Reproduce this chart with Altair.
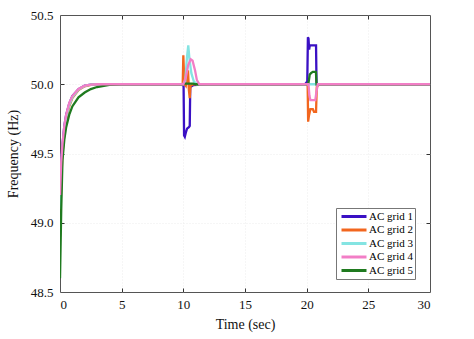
import altair as alt
import pandas as pd

series_names = ["AC grid 1", "AC grid 2", "AC grid 3", "AC grid 4", "AC grid 5"]
series_colors = ["#3a10c4", "#f2661e", "#84e4e2", "#f27ec6", "#1f7a1f"]
x_ticks = [0, 5, 10, 15, 20, 25, 30]
y_ticks = [48.5, 49.0, 49.5, 50.0, 50.5]
x_inner = [5, 10, 15, 20, 25]
y_inner = [49.0, 49.5, 50.0]

# start-up phase (shared time base)
t_start = [0, 0.1, 0.2, 0.35, 0.5, 0.75, 1.0, 1.5, 2.0, 2.5, 3.0, 4.0, 5.0]
f1_start = [49.30, 49.45, 49.56, 49.70, 49.78, 49.86, 49.915, 49.965, 49.99, 49.998, 50.0, 50.0, 50.0]
f2_start = [48.90, 49.30, 49.50, 49.64, 49.74, 49.84, 49.90, 49.958, 49.985, 49.996, 50.0, 50.0, 50.0]
f3_start = [49.10, 49.40, 49.54, 49.67, 49.76, 49.85, 49.905, 49.962, 49.988, 49.997, 50.0, 50.0, 50.0]
f4_start = [49.20, 49.44, 49.57, 49.70, 49.78, 49.865, 49.915, 49.966, 49.99, 49.998, 50.0, 50.0, 50.0]
f5_start = [48.60, 49.10, 49.45, 49.60, 49.69, 49.78, 49.84, 49.905, 49.94, 49.965, 49.98, 49.995, 50.0]

# disturbances (t, f)
t1_ev = [9.6, 9.9, 10.02, 10.06, 10.12, 10.2, 10.3, 10.45, 10.52, 10.56, 10.8, 11.5, 12.0, 19.5, 19.9, 20.05, 20.1, 20.15, 20.2, 20.25, 20.5, 20.76, 20.8, 21.0, 21.5, 30.0]
f1_ev = [50.0, 49.995, 49.99, 49.63, 49.62, 49.65, 49.68, 49.69, 49.70, 49.98, 49.993, 49.998, 50.0, 50.0, 50.003, 50.02, 50.34, 50.33, 50.25, 50.28, 50.28, 50.28, 50.0, 50.0, 50.0, 50.0]
t2_ev = [9.8, 9.95, 10.0, 10.05, 10.12, 10.2, 10.3, 10.38, 10.45, 10.52, 10.58, 10.8, 12.0, 19.9, 20.08, 20.12, 20.18, 20.3, 20.5, 20.6, 20.76, 20.82, 21.0, 30.0]
f2_ev = [50.0, 50.0, 50.21, 50.08, 50.0, 49.99, 50.06, 50.1, 49.96, 49.9, 49.99, 50.0, 50.0, 50.0, 49.99, 49.73, 49.77, 49.82, 49.82, 49.80, 49.80, 49.98, 50.0, 50.0]
t3_ev = [10.0, 10.15, 10.3, 10.4, 10.5, 10.65, 10.85, 11.1, 12.0, 30.0]
f3_ev = [50.0, 50.02, 50.2, 50.28, 50.18, 50.08, 50.02, 50.0, 50.0, 50.0]
t4_ev = [10.0, 10.2, 10.4, 10.6, 10.75, 10.95, 11.1, 11.3, 12.0, 20.0, 20.15, 20.22, 20.3, 20.7, 20.8, 20.9, 21.2, 30.0]
f4_ev = [50.0, 50.05, 50.14, 50.18, 50.17, 50.1, 50.03, 50.0, 50.0, 50.0, 50.0, 49.92, 49.885, 49.885, 49.95, 50.0, 50.0, 50.0]
t5_ev = [10.0, 10.1, 10.8, 11.0, 12.0, 20.0, 20.15, 20.25, 20.35, 20.5, 20.75, 20.8, 21.0, 30.0]
f5_ev = [50.0, 50.005, 50.005, 50.0, 50.0, 50.0, 50.01, 50.07, 50.08, 50.09, 50.09, 50.0, 50.0, 50.0]

starts = [f1_start, f2_start, f3_start, f4_start, f5_start]
evs = [(t1_ev, f1_ev), (t2_ev, f2_ev), (t3_ev, f3_ev), (t4_ev, f4_ev), (t5_ev, f5_ev)]

rows = []
draw_order = [0, 1, 2, 4, 3]  # pink drawn last (on top)
for k, i in enumerate(draw_order):
    for t, f in zip(t_start, starts[i]):
        rows.append({"t": t, "f": f, "s": series_names[i], "o": k})
    for t, f in zip(*evs[i]):
        rows.append({"t": t, "f": f, "s": series_names[i], "o": k})
df = pd.DataFrame(rows)

W, H = 370, 277
FONT = "Liberation Serif"
xs = alt.Scale(domain=[0, 30], nice=False, zero=False)
ys = alt.Scale(domain=[48.5, 50.5], nice=False, zero=False)

main = alt.Chart(df).mark_line(strokeWidth=2.3, clip=True).encode(
    x=alt.X("t:Q", scale=xs, axis=alt.Axis(orient="bottom", values=x_ticks, title="Time (sec)",
                                           tickSize=0, domain=False, labelPadding=6, titlePadding=6,
                                           grid=False)),
    y=alt.Y("f:Q", scale=ys, axis=alt.Axis(orient="left", values=y_ticks, format=".1f",
                                           title="Frequency (Hz)", tickSize=0, domain=False,
                                           labelPadding=7, titlePadding=10, grid=False)),
    color=alt.Color("s:N", scale=alt.Scale(domain=series_names, range=series_colors),
                    legend=alt.Legend(title=None, orient="none", legendX=276, legendY=193,
                                      symbolType="M-0.6,0H4.4", symbolSize=100, symbolStrokeWidth=3,
                                      labelFontSize=11, labelFont=FONT, rowPadding=0.5,
                                      strokeColor="#777", fillColor="white", padding=2,
                                      labelOffset=18)),
    order=alt.Order("o:Q"),
)

tick_axis = dict(labels=False, domain=False, ticks=True, tickSize=4,
                 tickColor="#333", title=None)

ticks_a = alt.Chart(df).mark_point(opacity=0).encode(
    x=alt.X("t:Q", scale=xs, axis=alt.Axis(orient="top", offset=-H, values=x_inner, grid=True,
                                           gridColor="#ececec", gridDash=[1, 2], **tick_axis)),
    y=alt.Y("f:Q", scale=ys, axis=alt.Axis(orient="right", offset=-W, values=y_inner, grid=True,
                                           gridColor="#ececec", gridDash=[1, 2], **tick_axis)),
)
ticks_b = alt.Chart(df).mark_point(opacity=0).encode(
    x=alt.X("t:Q", scale=xs, axis=alt.Axis(orient="bottom", offset=-H, values=x_inner, grid=False, **tick_axis)),
    y=alt.Y("f:Q", scale=ys, axis=alt.Axis(orient="left", offset=-W, values=y_inner, grid=False, **tick_axis)),
)

chart = alt.layer(ticks_a, ticks_b, main).resolve_axis(x="independent", y="independent").properties(
    width=W, height=H, padding={"left": 6, "top": 9, "right": 5, "bottom": 5}
).configure_view(stroke="#555", strokeWidth=1).configure_axis(
    labelFont=FONT, titleFont=FONT, labelFontSize=13, titleFontSize=14,
    labelColor="#111", titleColor="#111", titleFontWeight="normal"
)

chart.save("out.html", embed_options={"renderer": "svg", "actions": False})
